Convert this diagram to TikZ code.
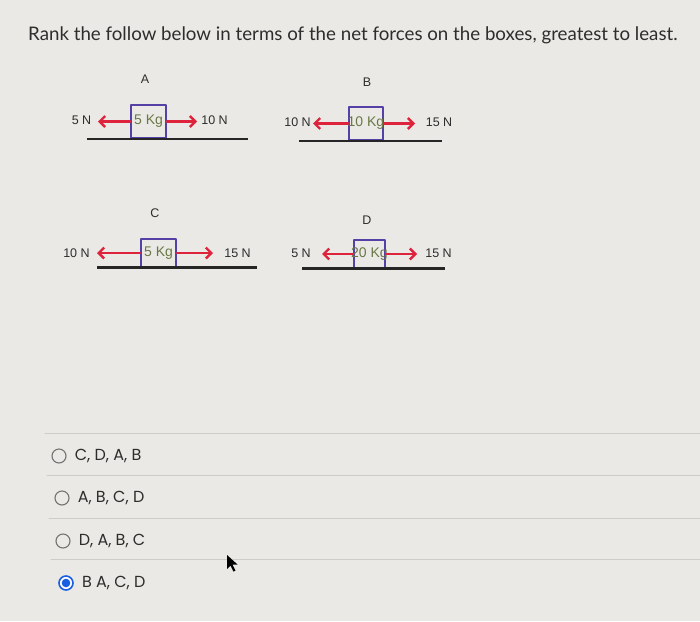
\documentclass[tikz,border=0pt]{standalone}
\usepackage{fontspec}
\setmainfont{Liberation Sans}
\newfontfamily\titlefont{Lato}
\newfontfamily\optfont{Poppins}
\usetikzlibrary{arrows.meta,positioning}
\definecolor{screen}{RGB}{234,233,229}
\definecolor{ink}{RGB}{45,45,45}
\definecolor{boxline}{RGB}{85,65,165}
\definecolor{masscol}{RGB}{105,120,70}
\definecolor{forcecol}{RGB}{222,35,60}
\definecolor{rule}{RGB}{205,205,200}
\definecolor{ringgray}{RGB}{115,115,115}
\definecolor{selblue}{RGB}{25,95,225}
\begin{document}
\begin{tikzpicture}[x=1pt, y=-1pt, line join=round, line cap=round, >={Straight Barb[length=5.5pt,width=11pt]},
  massbox/.style={draw=boxline, line width=1.8pt, inner sep=0pt, text=masscol, font=\fontsize{14}{14}\selectfont},
  force/.style={->, draw=forcecol, line width=2.4pt},
  lbl/.style={text=ink, inner sep=1pt, font=\fontsize{12.5}{12.5}\selectfont},
  ground/.style={draw=black!85, line width=2.2pt, line cap=butt},
  radio/.style={circle, draw=ringgray, line width=1.1pt, minimum size=14pt, inner sep=0pt},
  radioon/.style={radio, draw=selblue, line width=1.6pt, fill=white, path picture={\fill[selblue] (path picture bounding box.center) circle (4.3pt);}},
  opt/.style={text=ink, inner sep=0pt, font=\optfont\fontsize{16}{16}\selectfont}]
\useasboundingbox[fill=screen] (0,0) rectangle (700,621);
\node[anchor=base west, inner sep=0pt, text=ink, font=\titlefont\fontsize{18.7}{18.7}\selectfont] (title) at (28,40) {Rank the follow below in terms of the net forces on the boxes, greatest to least.};
% the four boxes
\foreach \n/\x/\y/\w/\h/\m in {A/148.5/121.5/35/33/5, B/366/123.5/34/33/10, C/158.5/253/35/28/5, D/369.5/254/31/28/20}
  \node[massbox, minimum width=\w pt, minimum height=\h pt] (box\n) at (\x,\y) {\makebox[0pt]{\m\ Kg}};
\draw[ground] (87,139)--(248,139) (299,141)--(442,141) (97,267.5)--(257,267.5) (302,268.5)--(445,268.5);
% forces
\path (98,121.5) coordinate (A1) (197,121.5) coordinate (A2) (313,123.5) coordinate (B1) (415,123.5) coordinate (B2)
  (97,253) coordinate (C1) (213,253) coordinate (C2) (322,254) coordinate (D1) (417,254) coordinate (D2);
\foreach \n in {A,B,C,D}{\draw[force] (box\n.west)--(\n1); \draw[force] (box\n.east)--(\n2);}
\foreach \n/\x/\y/\t in {fA1/81.5/120/5 N, fA2/214.5/120/10 N, fB1/297.5/122/10 N, fB2/439/122/15 N,
  fC1/76.5/253/10 N, fC2/237.5/253/15 N, fD1/301/253/5 N, fD2/438.5/253/15 N}
  \node[lbl] (\n) at (\x,\y) {\t};
\foreach \n/\x/\y in {A/145/79, B/367/82, C/155/213, D/367/220}
  \node[lbl] (name\n) at (\x,\y) {\n};
% answers
\draw[rule, line width=1pt] (45,433)--(700,433) (47,475)--(700,475) (49,518)--(700,518) (51,559)--(700,559);
\foreach \n/\x/\y/\t in {1/59/456/{C, D, A, B}, 2/62/498/{A, B, C, D}, 3/63/541/{D, A, B, C}}{
  \node[radio] (radio\n) at (\x,\y) {};
  \node[opt, right=8pt of radio\n] (opt\n) {\t};}
\node[radioon] (radio4) at (66,583) {};
\node[opt, right=8pt of radio4] (opt4) {B A, C, D};
% pointer
\fill[black] (227,555)--++(0,14)--++(3.5,-3.5)--++(3,6)--++(2,-1)--++(-3,-6)--++(5,0)--cycle;
\end{tikzpicture}
\end{document}
